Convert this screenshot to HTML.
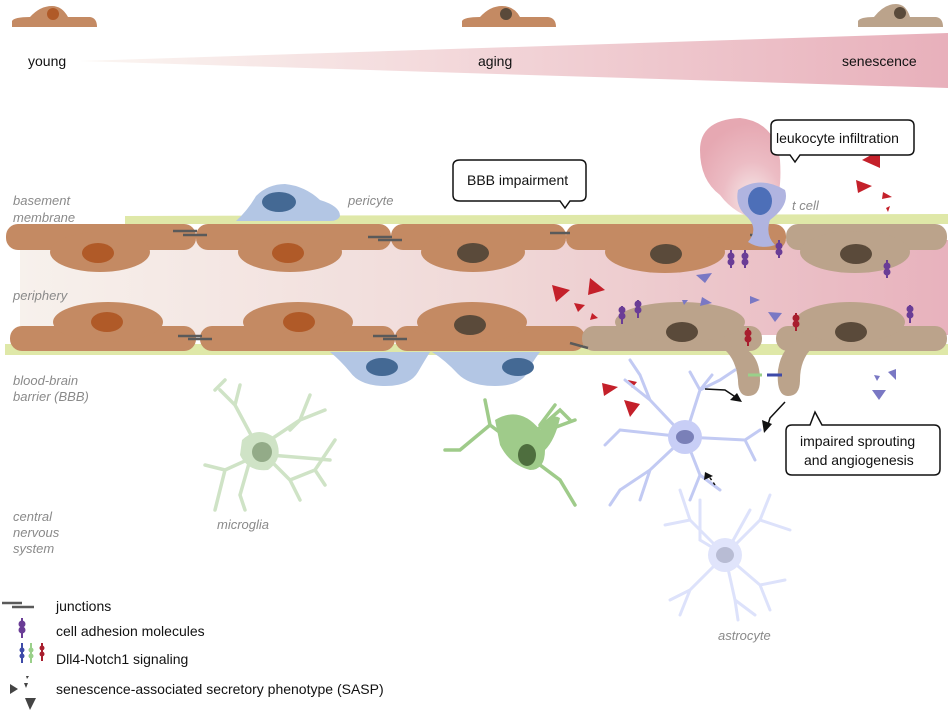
<!DOCTYPE html>
<html><head><meta charset="utf-8"><style>
html,body{margin:0;padding:0;background:#fff}
svg{display:block}
text{font-family:"Liberation Sans",sans-serif}
.lab{fill:#8a8a8a;font-style:italic;font-size:13px}
.blk{fill:#111;font-size:14px}
</style></head><body>
<svg width="950" height="713" viewBox="0 0 950 713" xmlns="http://www.w3.org/2000/svg">
<defs>
<linearGradient id="wg" x1="0" x2="1" y1="0" y2="0"><stop offset="0" stop-color="#fbf6f2"/><stop offset="1" stop-color="#e8b0bb"/></linearGradient>
<linearGradient id="lg" x1="0" x2="1" y1="0" y2="0"><stop offset="0" stop-color="#f7f1ec"/><stop offset="0.5" stop-color="#f0d9d8"/><stop offset="1" stop-color="#e8b2bd"/></linearGradient>
<radialGradient id="pk" cx="0.65" cy="0.8" r="0.75"><stop offset="0" stop-color="#f6e8e8"/><stop offset="0.5" stop-color="#ecbcc4"/><stop offset="1" stop-color="#e6a8b2"/></radialGradient>
</defs>

<g>
<path d="M12,27 L12,21 Q14,17 30,17 Q40,6 52,6 Q62,6 68,17 L90,17 Q97,18 97,27 Z" fill="#c48a63"/>
<circle cx="53" cy="14" r="6" fill="#b05a28"/>
<path d="M462,27 L462,21 Q464,17 480,17 Q490,6 502,6 Q514,6 520,17 L548,17 Q556,18 556,27 Z" fill="#c48a63"/>
<circle cx="506" cy="14" r="6" fill="#5a4a3a"/>
<path d="M858,27 L858,21 Q860,17 874,17 Q884,4 896,4 Q906,4 910,17 L936,17 Q943,18 943,27 Z" fill="#bba38b"/>
<circle cx="900" cy="13" r="6" fill="#5a4a3a"/>
</g>
<polygon points="80,61 948,33 948,88" fill="url(#wg)"/>
<text x="28" y="66" class="blk" font-size="15">young</text>
<text x="478" y="66" class="blk" font-size="15">aging</text>
<text x="842" y="66" class="blk" font-size="15">senescence</text>

<rect x="20" y="240" width="928" height="95" fill="url(#lg)"/>
<polygon points="125,216 948,214 948,224 125,224" fill="#dfe8a8"/>
<rect x="5" y="344" width="943" height="11" fill="#dfe8a8"/>
<!-- pericytes -->
<path d="M236,221 Q248,210 256,196 Q268,184 285,184 Q305,186 320,200 Q340,206 340,216 Q338,221 330,221 Z" fill="#b3c6e4"/>
<ellipse cx="279" cy="202" rx="17" ry="10" fill="#446994"/>
<path d="M330,352 L430,352 Q425,360 418,372 Q410,386 385,386 Q360,386 350,372 Q340,360 330,352Z" fill="#b3c6e4"/>
<ellipse cx="382" cy="367" rx="16" ry="9" fill="#446994"/>
<path d="M432,352 L540,352 Q532,362 528,372 Q520,386 495,386 Q470,386 458,374 Q445,360 432,352Z" fill="#b3c6e4"/>
<ellipse cx="518" cy="367" rx="16" ry="9" fill="#446994"/>

<g fill="#c48a63">
<rect x="6" y="224" width="190" height="26" rx="12"/><ellipse cx="100" cy="252" rx="50" ry="20"/>
<rect x="196" y="224" width="195" height="26" rx="12"/><ellipse cx="290" cy="252" rx="52" ry="20"/>
<rect x="391" y="224" width="175" height="26" rx="12"/><ellipse cx="473" cy="252" rx="52" ry="20"/>
<rect x="566" y="224" width="220" height="26" rx="12"/><ellipse cx="665" cy="252" rx="60" ry="21"/>
</g>
<g fill="#bba38b"><rect x="786" y="224" width="161" height="26" rx="12"/><ellipse cx="855" cy="252" rx="55" ry="21"/></g>
<g fill="#b05a28"><ellipse cx="98" cy="253" rx="16" ry="10"/><ellipse cx="288" cy="253" rx="16" ry="10"/></g>
<g fill="#5a4a3a"><ellipse cx="473" cy="253" rx="16" ry="10"/><ellipse cx="666" cy="254" rx="16" ry="10"/><ellipse cx="856" cy="254" rx="16" ry="10"/></g>

<g fill="#c48a63">
<rect x="10" y="326" width="186" height="25" rx="12"/><ellipse cx="108" cy="322" rx="55" ry="20"/>
<rect x="200" y="326" width="195" height="25" rx="12"/><ellipse cx="298" cy="322" rx="55" ry="20"/>
<rect x="395" y="326" width="190" height="25" rx="12"/><ellipse cx="472" cy="322" rx="55" ry="20"/>
</g>
<g fill="#bba38b">
<rect x="582" y="326" width="180" height="25" rx="12"/><ellipse cx="680" cy="322" rx="65" ry="20"/>
<path d="M735,345 Q760,350 760,380 Q760,396 748,396 Q738,396 738,380 Q736,360 725,350Z"/>
<rect x="776" y="326" width="171" height="25" rx="12"/><ellipse cx="850" cy="322" rx="55" ry="20"/>
<path d="M800,340 Q782,345 778,370 Q776,396 788,396 Q800,396 800,380 Q800,360 812,348Z"/>
</g>
<g fill="#b05a28"><ellipse cx="107" cy="322" rx="16" ry="10"/><ellipse cx="299" cy="322" rx="16" ry="10"/></g>
<g fill="#5a4a3a"><ellipse cx="470" cy="325" rx="16" ry="10"/><ellipse cx="682" cy="332" rx="16" ry="10"/><ellipse cx="851" cy="332" rx="16" ry="10"/></g>

<g stroke="#5a5a5a" stroke-width="2.5">
<path d="M173,231h24M183,235h24"/><path d="M368,237h24M378,240h24"/><path d="M178,336h24M188,339h24"/><path d="M373,336h24M383,339h24"/>
<path d="M550,233h20"/><path d="M570,343l18,5"/><path d="M750,235h10"/>
</g>

<!-- leukocyte -->
<path d="M700,150 Q700,120 740,118 Q775,122 780,160 Q782,190 775,205 Q770,215 760,220 Q735,215 720,195 Q700,180 700,150Z" fill="url(#pk)"/>
<path d="M738,190 Q760,175 785,190 Q790,205 770,220 Q765,235 775,245 Q760,250 748,242 Q760,228 745,215 Q735,205 738,190Z" fill="#b0b4e0"/>
<ellipse cx="760" cy="201" rx="12" ry="14" fill="#4d6fb8"/>

<g stroke="#6a3d96" stroke-width="2" fill="#6a3d96">
<path d="M731,250v18M745,250v18M779,240v18M887,260v18M622,306v18M638,300v18M910,305v18"/>
<circle cx="731" cy="256" r="2.5"/><circle cx="731" cy="262" r="2.5"/><circle cx="745" cy="256" r="2.5"/><circle cx="745" cy="262" r="2.5"/>
<circle cx="779" cy="246" r="2.5"/><circle cx="779" cy="252" r="2.5"/><circle cx="887" cy="266" r="2.5"/><circle cx="887" cy="272" r="2.5"/>
<circle cx="622" cy="310" r="2.5"/><circle cx="622" cy="316" r="2.5"/><circle cx="638" cy="304" r="2.5"/><circle cx="638" cy="310" r="2.5"/><circle cx="910" cy="309" r="2.5"/><circle cx="910" cy="315" r="2.5"/>
</g>
<g stroke="#a81e2e" stroke-width="2" fill="#a81e2e"><path d="M748,328v18M796,313v18"/><circle cx="748" cy="333" r="2.5"/><circle cx="748" cy="339" r="2.5"/><circle cx="796" cy="318" r="2.5"/><circle cx="796" cy="324" r="2.5"/></g>
<path d="M748,375h14" stroke="#9ad08a" stroke-width="3"/><path d="M767,375h15" stroke="#3e4aa8" stroke-width="3"/>

<g fill="#c4202a">
<polygon points="552,285 570,290 556,302"/><polygon points="590,278 605,290 588,295"/><polygon points="574,303 585,305 578,312"/><polygon points="592,313 598,318 590,320"/>
<polygon points="862,160 880,150 880,168"/><polygon points="856,180 872,186 858,193"/><polygon points="883,192 892,197 882,199"/><polygon points="886,208 890,206 888,212"/>
<polygon points="602,383 618,387 604,396"/><polygon points="624,400 640,404 630,417"/><polygon points="628,380 637,382 632,388"/>
</g>
<g fill="#7a78c4">
<polygon points="696,275 712,273 705,283"/><polygon points="702,297 712,303 700,306"/><polygon points="750,296 760,300 750,304"/><polygon points="768,312 782,313 775,322"/><polygon points="682,300 688,300 684,305"/>
<polygon points="874,375 880,376 877,381"/><polygon points="888,372 896,369 896,380"/><polygon points="872,390 886,390 879,400"/>
</g>

<!-- microglia light -->
<g stroke="#cfe3c6" stroke-width="3.5" fill="none" stroke-linecap="round">
<path d="M258,448 L235,405 L220,390 M235,405 L240,385 M258,448 L300,420 L310,395 M300,420 L325,410 M265,455 L290,480 L300,500 M290,480 L315,470 L335,440 M258,455 L225,470 L205,465 M225,470 L215,510 M250,460 L240,495 L245,510 M270,455 L330,460 M300,420 L290,430 M215,390 L225,380 M315,470 L325,485"/>
</g>
<path d="M242,440 Q258,425 275,438 Q285,458 268,470 Q248,472 240,455Z" fill="#cfe3c6"/>
<ellipse cx="262" cy="452" rx="10" ry="10" fill="#93ab88"/>
<!-- microglia dark -->
<g stroke="#9fcb8a" stroke-width="3.5" fill="none" stroke-linecap="round">
<path d="M510,440 L490,425 L485,400 M490,425 L460,450 L445,450 M520,445 L560,410 L570,420 M520,450 L560,480 L575,505 M540,425 L555,405 M548,430 L575,420"/>
</g>
<path d="M495,420 Q520,405 540,430 Q550,412 560,418 Q555,440 545,450 Q545,470 530,470 Q510,465 500,445Z" fill="#9fcb8a"/>
<ellipse cx="527" cy="455" rx="9" ry="11" fill="#4e6e3e"/>

<!-- astrocytes -->
<g stroke="#c2caf3" stroke-width="3" fill="none" stroke-linecap="round">
<path d="M685,437 L650,400 L625,380 M650,400 L640,375 M685,437 L700,390 L690,372 M700,390 L720,380 M685,437 L745,440 L760,430 M745,440 L755,460 M685,437 L650,470 L620,490 M650,470 L640,500 M685,437 L700,475 L720,490 M700,475 L690,500 M685,437 L620,430 M620,430 L605,445 M640,375 L630,360 M720,380 L735,370 M620,490 L610,505 M700,390 L712,375"/>
</g>
<circle cx="685" cy="437" r="17" fill="#c8cef6"/>
<ellipse cx="685" cy="437" rx="9" ry="7" fill="#7a80b8"/>
<g stroke="#dde2fb" stroke-width="3" fill="none" stroke-linecap="round">
<path d="M725,555 L690,520 L680,490 M690,520 L665,525 M725,555 L760,520 L770,495 M760,520 L790,530 M725,555 L760,585 L770,610 M725,555 L690,590 L680,615 M725,555 L735,600 L738,620 M725,555 L700,540 L700,500 M725,555 L750,510 M690,590 L670,600 M760,585 L785,580 M735,600 L755,615"/>
</g>
<circle cx="725" cy="555" r="17" fill="#e0e4fb"/>
<ellipse cx="725" cy="555" rx="9" ry="8" fill="#b8bcd4"/>

<g stroke="#111" stroke-width="1.5" fill="none">
<path d="M705,389 L725,390 L737,398"/><path d="M785,402 L770,418 L767,428"/><path d="M715,485 L708,475" stroke-dasharray="3,3"/>
</g>
<g fill="#111"><polygon points="742,402 730,400 737,393"/><polygon points="764,433 762,420 772,424"/><polygon points="705,472 713,476 704,480"/></g>

<g fill="#fff" stroke="#111" stroke-width="1.5">
<path d="M460,160 L580,160 Q586,160 586,166 L586,195 Q586,201 580,201 L570,201 L565,208 L560,201 L460,201 Q453,201 453,195 L453,166 Q453,160 460,160Z"/>
<path d="M778,120 L908,120 Q914,120 914,126 L914,149 Q914,155 908,155 L800,155 L795,162 L790,155 L778,155 Q771,155 771,149 L771,126 Q771,120 778,120Z"/>
<path d="M792,425 L810,425 L815,412 L822,425 L934,425 Q940,425 940,431 L940,469 Q940,475 934,475 L792,475 Q786,475 786,469 L786,431 Q786,425 792,425Z"/>
</g>
<text x="467" y="185" class="blk">BBB impairment</text>
<text x="776" y="143" class="blk">leukocyte infiltration</text>
<text x="800" y="446" class="blk">impaired sprouting</text>
<text x="804" y="465" class="blk">and angiogenesis</text>

<text x="13" y="205" class="lab">basement</text><text x="13" y="222" class="lab">membrane</text>
<text x="348" y="205" class="lab">pericyte</text>
<text x="792" y="210" class="lab">t cell</text>
<text x="13" y="300" class="lab">periphery</text>
<text x="13" y="385" class="lab">blood-brain</text><text x="13" y="401" class="lab">barrier (BBB)</text>
<text x="13" y="521" class="lab">central</text><text x="13" y="537" class="lab">nervous</text><text x="13" y="553" class="lab">system</text>
<text x="217" y="529" class="lab">microglia</text>
<text x="718" y="640" class="lab">astrocyte</text>

<g stroke="#5a5a5a" stroke-width="2.5"><path d="M2,603h20M12,607h22"/></g>
<g stroke="#6a3d96" stroke-width="2" fill="#6a3d96"><path d="M22,618v20"/><circle cx="22" cy="624" r="2.5"/><circle cx="22" cy="630" r="2.5"/></g>
<g stroke-width="2"><path d="M22,643v20" stroke="#3e4aa8"/><path d="M31,643v20" stroke="#9ad08a"/><path d="M42,643v18" stroke="#a81e2e"/></g>
<g fill="#3e4aa8"><circle cx="22" cy="650" r="2.5"/><circle cx="22" cy="656" r="2.5"/></g>
<g fill="#9ad08a"><circle cx="31" cy="650" r="2.5"/><circle cx="31" cy="656" r="2.5"/></g>
<g fill="#a81e2e"><circle cx="42" cy="648" r="2.5"/><circle cx="42" cy="654" r="2.5"/></g>
<g fill="#444"><polygon points="26,676 29,676 27,679"/><polygon points="24,683 28,683 26,688"/><polygon points="10,684 18,689 10,694"/><polygon points="25,698 36,698 30,710"/></g>
<text x="56" y="611" class="blk" font-size="13">junctions</text>
<text x="56" y="636" class="blk" font-size="13">cell adhesion molecules</text>
<text x="56" y="664" class="blk" font-size="13">Dll4-Notch1 signaling</text>
<text x="56" y="694" class="blk" font-size="13">senescence-associated secretory phenotype (SASP)</text>
</svg>
</body></html>
